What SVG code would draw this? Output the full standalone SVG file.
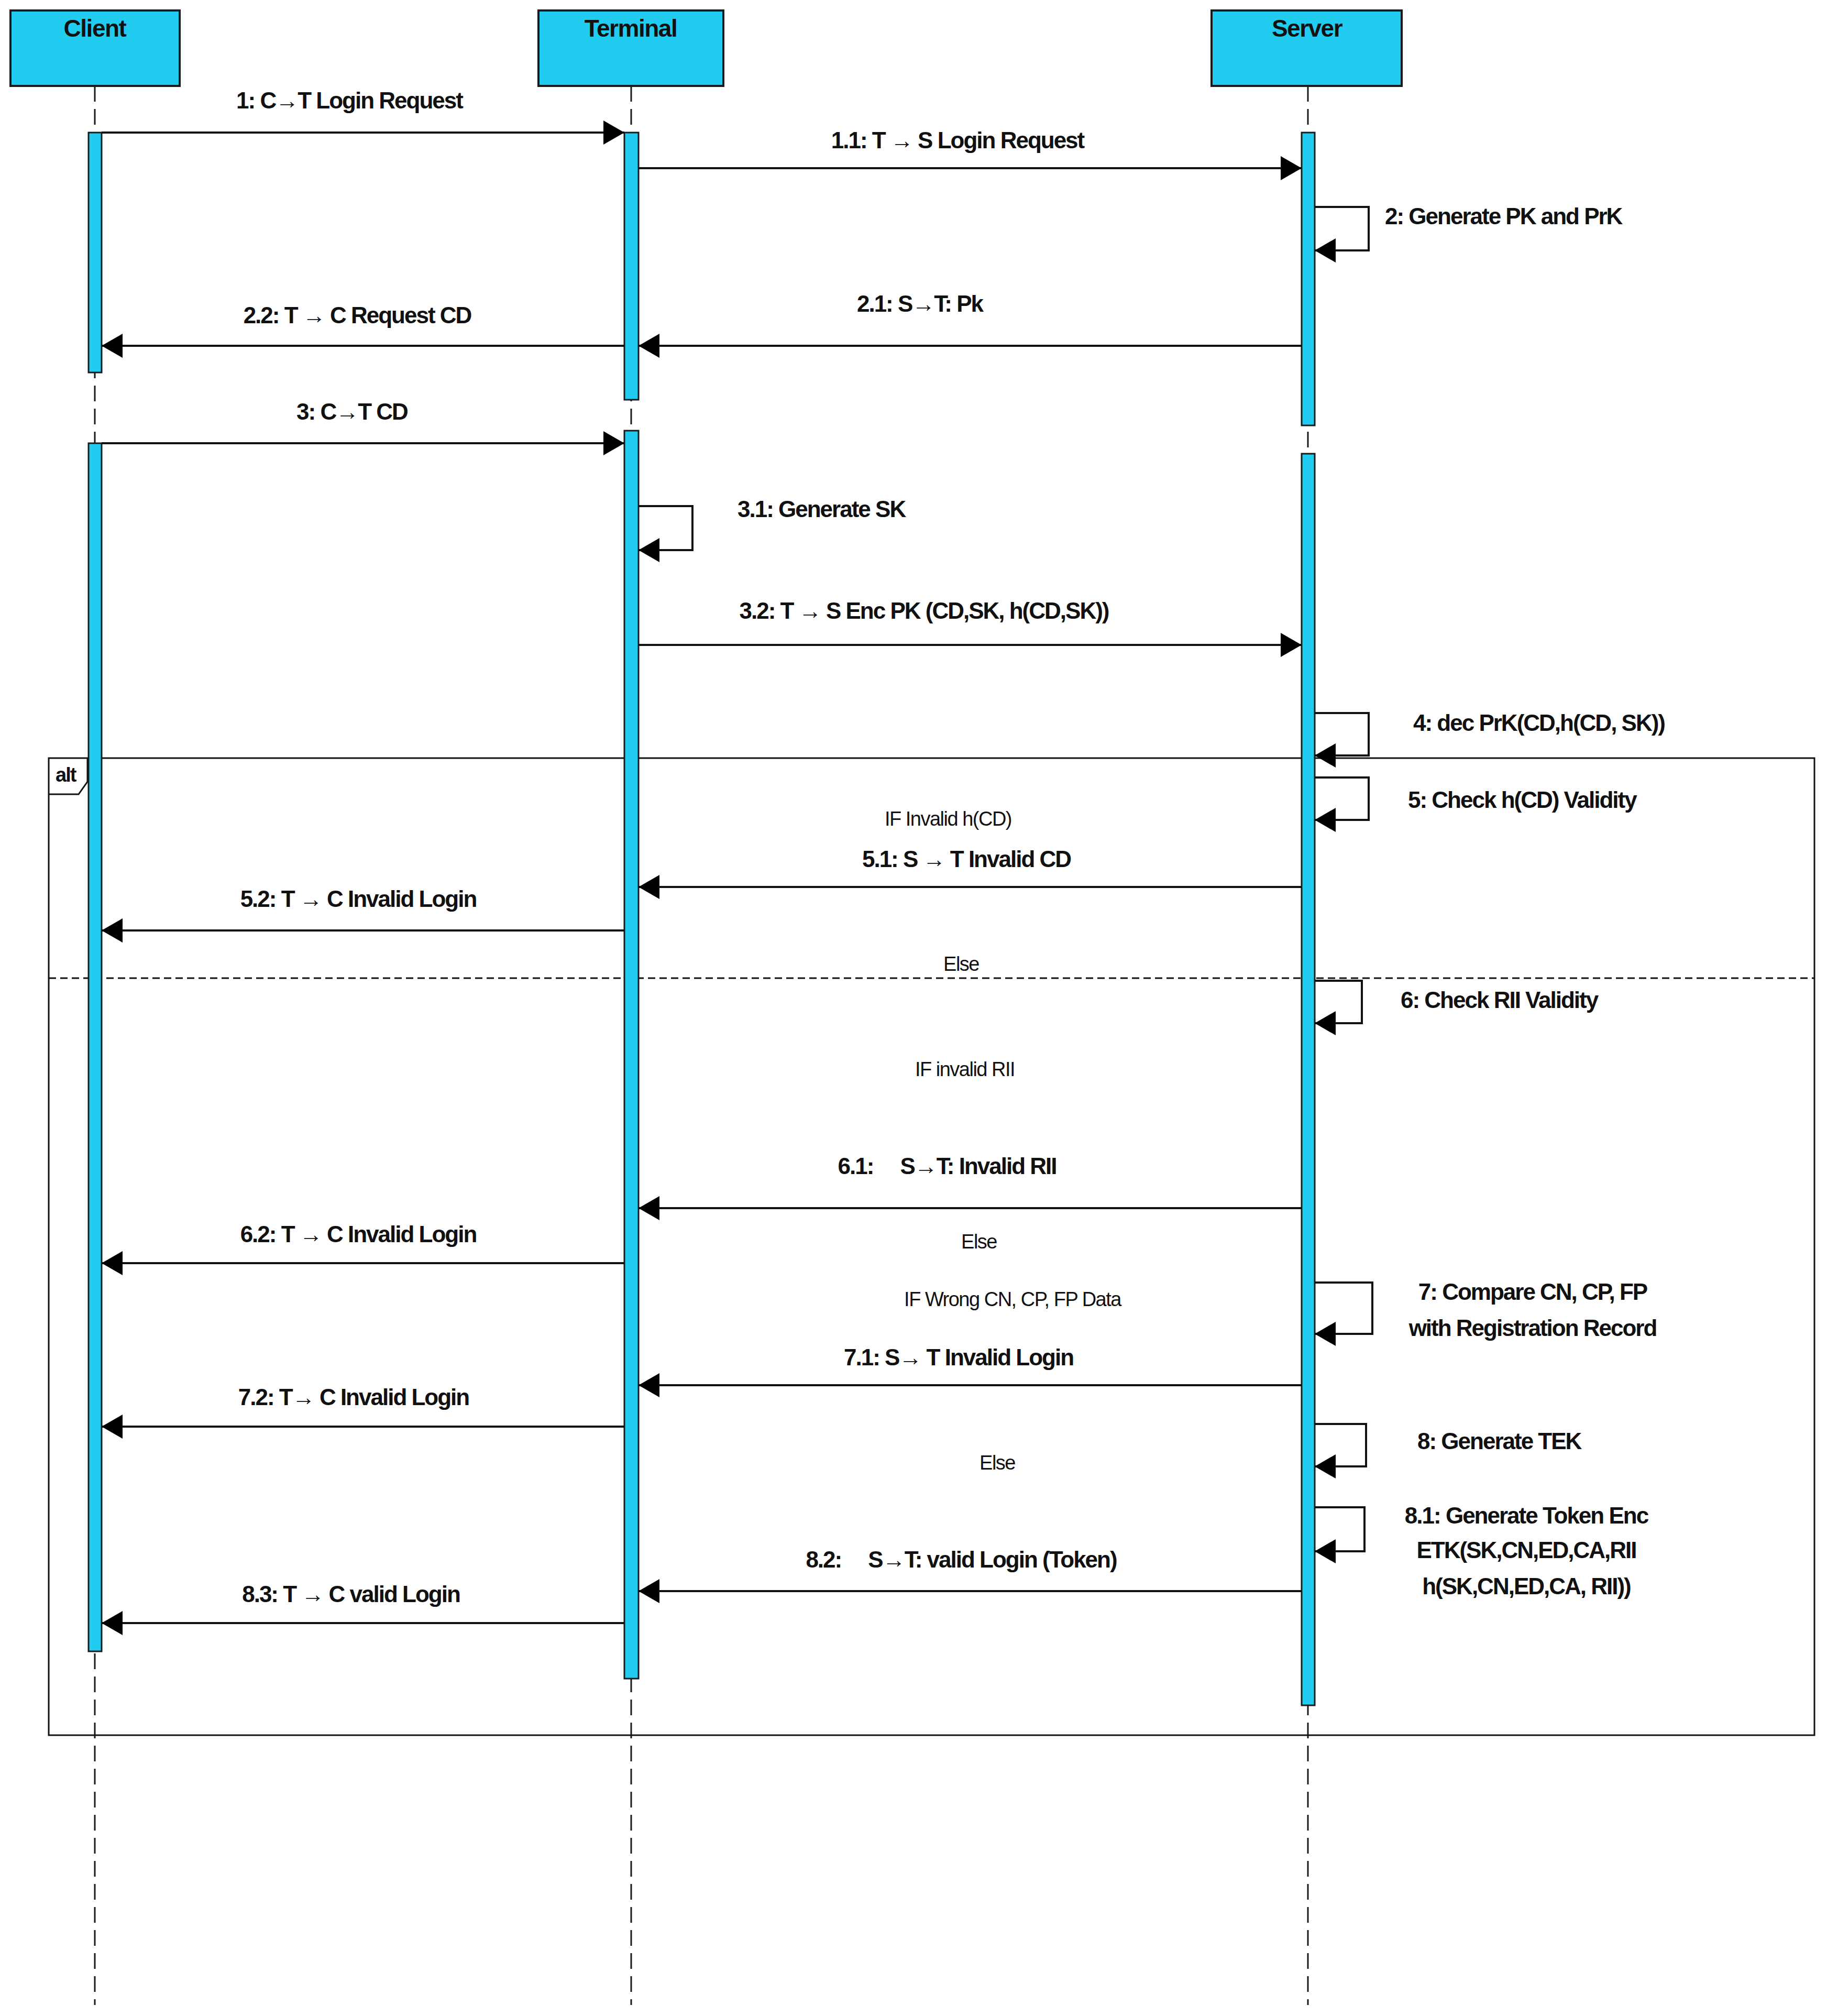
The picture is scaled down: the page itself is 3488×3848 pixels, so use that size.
<svg xmlns="http://www.w3.org/2000/svg" width="3488" height="3848" viewBox="0 0 3488 3848">
<style>
.head{fill:#22ccf0;stroke:#1a1a1a;stroke-width:4}
.act{fill:#22ccf0;stroke:#1a1a1a;stroke-width:3}
.life{stroke:#1a1a1a;stroke-width:3;stroke-dasharray:30,14;fill:none}
.msg{stroke:#111;stroke-width:4;fill:none;marker-end:url(#ah)}
.t{font-family:"Liberation Sans",Arial,sans-serif;font-weight:bold;font-size:44px;fill:#111;letter-spacing:-2px;dominant-baseline:central}
.c{text-anchor:middle}
.g{font-family:"Liberation Sans",Arial,sans-serif;font-size:38px;fill:#111;letter-spacing:-1.5px;dominant-baseline:central;text-anchor:middle}
.h{font-family:"Liberation Sans",Arial,sans-serif;font-weight:bold;font-size:46px;fill:#111;letter-spacing:-1.5px;text-anchor:middle;dominant-baseline:central}
</style>
<defs>
<marker id="ah" markerUnits="userSpaceOnUse" markerWidth="42" markerHeight="46" refX="40" refY="23" orient="auto">
<path d="M0,0 L40,23 L0,46 z" fill="#000"/>
</marker>
</defs>
<rect width="3488" height="3848" fill="#fff"/>
<g id="lifelines">
<line class="life" x1="181" y1="164" x2="181" y2="3827"/>
<line class="life" x1="1205" y1="164" x2="1205" y2="3827"/>
<line class="life" x1="2497" y1="164" x2="2497" y2="3827"/>
</g>
<g id="client"><rect class="head" x="20" y="20" width="323" height="144"/><text class="h" x="181" y="54">Client</text></g>
<g id="terminal"><rect class="head" x="1028" y="20" width="353" height="144"/><text class="h" x="1204" y="54">Terminal</text></g>
<g id="server"><rect class="head" x="2313" y="20" width="363" height="144"/><text class="h" x="2495" y="54">Server</text></g>
<g id="alt">
<rect x="93" y="1447" width="3371" height="1865" fill="none" stroke="#111" stroke-width="3"/>
<path d="M93,1516 L150,1516 L167,1492 L167,1447" fill="#fff" stroke="#111" stroke-width="3"/>
<text class="t" x="106" y="1479" style="font-size:38px">alt</text>
<line x1="93" y1="1867" x2="3464" y2="1867" stroke="#111" stroke-width="3" stroke-dasharray="14,8"/>
</g>
<g id="activations">
<rect class="act" x="169" y="253" width="25" height="458"/>
<rect class="act" x="169" y="846" width="25" height="2306"/>
<rect class="act" x="1192" y="253" width="27" height="510"/>
<rect class="act" x="1192" y="822" width="27" height="2382"/>
<rect class="act" x="2485" y="253" width="25" height="559"/>
<rect class="act" x="2485" y="866" width="25" height="2389"/>
</g>
<g id="connectors">
<line class="msg" x1="194" y1="253" x2="1192" y2="253"/>
<line class="msg" x1="1219" y1="321" x2="2485" y2="321"/>
<path class="msg" d="M2510,395 H2613 V478 H2510"/>
<line class="msg" x1="2485" y1="660" x2="1219" y2="660"/>
<line class="msg" x1="1192" y1="660" x2="194" y2="660"/>
<line class="msg" x1="194" y1="846" x2="1192" y2="846"/>
<path class="msg" d="M1219,966 H1322 V1050 H1219"/>
<line class="msg" x1="1219" y1="1231" x2="2485" y2="1231"/>
<path class="msg" d="M2510,1361 H2613 V1442 H2510"/>
<path class="msg" d="M2510,1484 H2613 V1565 H2510"/>
<line class="msg" x1="2485" y1="1693" x2="1219" y2="1693"/>
<line class="msg" x1="1192" y1="1776" x2="194" y2="1776"/>
<path class="msg" d="M2510,1872 H2600 V1953 H2510"/>
<line class="msg" x1="2485" y1="2306" x2="1219" y2="2306"/>
<line class="msg" x1="1192" y1="2411" x2="194" y2="2411"/>
<path class="msg" d="M2510,2448 H2620 V2546 H2510"/>
<line class="msg" x1="2485" y1="2644" x2="1219" y2="2644"/>
<line class="msg" x1="1192" y1="2723" x2="194" y2="2723"/>
<path class="msg" d="M2510,2718 H2608 V2799 H2510"/>
<path class="msg" d="M2510,2877 H2605 V2961 H2510"/>
<line class="msg" x1="2485" y1="3037" x2="1219" y2="3037"/>
<line class="msg" x1="1192" y1="3098" x2="194" y2="3098"/>
</g>
<g id="labels">
<text class="t c" x="667" y="191">1: C→T Login Request</text>
<text class="t c" x="1828" y="267">1.1: T → S Login Request</text>
<text class="t" x="2644" y="412">2: Generate PK and PrK</text>
<text class="t c" x="1756" y="579">2.1: S→T: Pk</text>
<text class="t c" x="682" y="601">2.2: T → C Request CD</text>
<text class="t c" x="672" y="785">3: C→T CD</text>
<text class="t" x="1408" y="971">3.1: Generate SK</text>
<text class="t c" x="1764" y="1165">3.2: T → S Enc PK (CD,SK, h(CD,SK))</text>
<text class="t" x="2698" y="1379">4: dec PrK(CD,h(CD, SK))</text>
<text class="t" x="2688" y="1526">5: Check h(CD) Validity</text>
<text class="g" x="1810" y="1563">IF Invalid h(CD)</text>
<text class="t c" x="1845" y="1639">5.1: S → T Invalid CD</text>
<text class="t c" x="684" y="1715">5.2: T → C Invalid Login</text>
<text class="g" x="1835" y="1840">Else</text>
<text class="t" x="2674" y="1908">6: Check RII Validity</text>
<text class="g" x="1842" y="2041">IF invalid RII</text>
<text class="t c" x="1808" y="2225" xml:space="preserve">6.1:     S→T: Invalid RII</text>
<text class="t c" x="684" y="2355">6.2: T → C Invalid Login</text>
<text class="g" x="1869" y="2370">Else</text>
<text class="t c" x="2926" y="2465">7: Compare CN, CP, FP</text>
<text class="t c" x="2926" y="2534">with Registration Record</text>
<text class="g" x="1933" y="2480">IF Wrong CN, CP, FP Data</text>
<text class="t c" x="1830" y="2590">7.1: S→ T Invalid Login</text>
<text class="t c" x="675" y="2666">7.2: T→ C Invalid Login</text>
<text class="t" x="2706" y="2750">8: Generate TEK</text>
<text class="g" x="1904" y="2792">Else</text>
<text class="t c" x="2914" y="2892">8.1: Generate Token Enc</text>
<text class="t c" x="2914" y="2958">ETK(SK,CN,ED,CA,RII</text>
<text class="t c" x="2914" y="3027">h(SK,CN,ED,CA, RII))</text>
<text class="t c" x="1835" y="2976" xml:space="preserve">8.2:     S→T: valid Login (Token)</text>
<text class="t c" x="670" y="3042">8.3: T → C valid Login</text>
</g>
</svg>
